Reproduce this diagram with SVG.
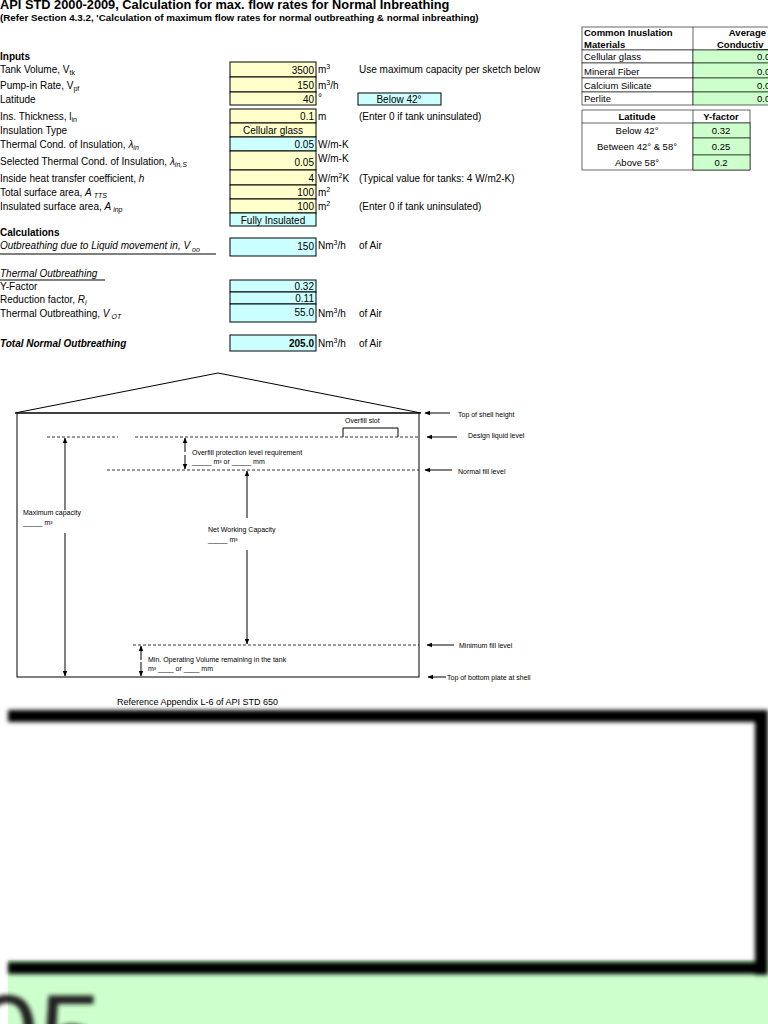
<svg xmlns="http://www.w3.org/2000/svg" width="768" height="1024" viewBox="0 0 768 1024">
<style>
text{font-family:"Liberation Sans",Arial,sans-serif;font-size:10px;fill:#000}
.b{font-weight:bold}.i{font-style:italic}
.y{fill:#ffffcc;stroke:#000;stroke-width:1}
.c{fill:#ccffff;stroke:#000;stroke-width:1}
.g{fill:#ccffcc;stroke:#000;stroke-width:0.6}
.w{fill:#fff;stroke:#000;stroke-width:0.6}
.v{text-anchor:end}
.s{font-size:7px}
.d{stroke:#000;stroke-width:0.8;stroke-dasharray:3,2;fill:none}
.l{stroke:#000;stroke-width:1;fill:none}
.m{text-anchor:middle}
</style>
<defs>
<marker id="a" viewBox="0 0 10 10" refX="9" refY="5" markerWidth="6" markerHeight="6" orient="auto-start-reverse"><path d="M0,1L10,5L0,9z" fill="#000"/></marker>
<filter id="bl"><feGaussianBlur stdDeviation="2"/></filter>
</defs>
<rect width="768" height="1024" fill="#fff"/>
<g id="header">
<text x="0" y="9" class="b" style="font-size:12.8px">API STD 2000-2009, Calculation for max. flow rates for Normal Inbreathing</text>
<text x="0" y="21" class="b" style="font-size:9.8px">(Refer Section 4.3.2, 'Calculation of maximum flow rates for normal outbreathing &amp; normal inbreathing)</text>
</g>
<g id="inputs">
<text x="0" y="60" class="b">Inputs</text>
<text x="0" y="73">Tank Volume, V<tspan class="s" dy="2">tk</tspan></text>
<text x="0" y="89">Pump-in Rate, V<tspan class="s" dy="2">pf</tspan></text>
<text x="0" y="103">Latitude</text>
<text x="0" y="120">Ins. Thickness, l<tspan class="s" dy="2">in</tspan></text>
<text x="0" y="134">Insulation Type</text>
<text x="0" y="148">Thermal Cond. of Insulation, <tspan class="i">λ</tspan><tspan class="s i" dy="2">in</tspan></text>
<text x="0" y="165">Selected Thermal Cond. of Insulation, <tspan class="i">λ</tspan><tspan class="s i" dy="2">in,S</tspan></text>
<text x="0" y="182">Inside heat transfer coefficient, <tspan class="i">h</tspan></text>
<text x="0" y="196">Total surface area, <tspan class="i">A</tspan><tspan class="s i" dy="2"> TTS</tspan></text>
<text x="0" y="210">Insulated surface area, <tspan class="i">A</tspan><tspan class="s i" dy="2"> inp</tspan></text>
<rect class="y" x="230" y="62" width="86" height="15"/><text x="314" y="74" class="v">3500</text>
<rect class="y" x="230" y="77" width="86" height="15"/><text x="314" y="89" class="v">150</text>
<rect class="y" x="230" y="92" width="86" height="13"/><text x="314" y="103" class="v">40</text>
<rect class="y" x="230" y="109" width="86" height="14"/><text x="314" y="120" class="v">0.1</text>
<rect class="y" x="230" y="123" width="86" height="14"/><text x="273" y="134" class="m">Cellular glass</text>
<rect class="c" x="230" y="137" width="86" height="14"/><text x="314" y="148" class="v">0.05</text>
<rect class="y" x="230" y="151" width="86" height="19"/><text x="314" y="166" class="v">0.05</text>
<rect class="y" x="230" y="170" width="86" height="15"/><text x="314" y="182" class="v">4</text>
<rect class="y" x="230" y="185" width="86" height="14"/><text x="314" y="196" class="v">100</text>
<rect class="y" x="230" y="199" width="86" height="14"/><text x="314" y="210" class="v">100</text>
<rect class="c" x="230" y="213" width="86" height="13"/><text x="273" y="224" class="m">Fully Insulated</text>
<text x="318" y="73">m<tspan class="s" dy="-4">3</tspan></text>
<text x="318" y="89">m<tspan class="s" dy="-4">3</tspan><tspan dy="4">/h</tspan></text>
<text x="318" y="101">°</text>
<text x="318" y="120">m</text>
<text x="318" y="148">W/m-K</text>
<text x="318" y="162">W/m-K</text>
<text x="318" y="182">W/m<tspan class="s" dy="-4">2</tspan><tspan dy="4">K</tspan></text>
<text x="318" y="196">m<tspan class="s" dy="-4">2</tspan></text>
<text x="318" y="210">m<tspan class="s" dy="-4">2</tspan></text>
<text x="359" y="73">Use maximum capacity per sketch below</text>
<rect class="c" x="358" y="93" width="83" height="12"/><text x="399" y="103" class="m">Below 42°</text>
<text x="359" y="120">(Enter 0 if tank uninsulated)</text>
<text x="359" y="182">(Typical value for tanks: 4 W/m2-K)</text>
<text x="359" y="210">(Enter 0 if tank uninsulated)</text>
</g>
<g id="calcs">
<text x="0" y="236" class="b">Calculations</text>
<text x="0" y="249" class="i">Outbreathing due to Liquid movement in, V<tspan class="s" dy="3"> oo</tspan></text>
<line x1="0" y1="254" x2="216" y2="254" class="l"/>
<rect class="c" x="230" y="238" width="86" height="18"/><text x="314" y="250" class="v">150</text>
<text x="318" y="249">Nm<tspan class="s" dy="-4">3</tspan><tspan dy="4">/h</tspan></text>
<text x="359" y="249">of Air</text>
<text x="0" y="277" class="i">Thermal Outbreathing</text>
<line x1="0" y1="280" x2="105" y2="280" class="l"/>
<text x="0" y="290">Y-Factor</text>
<text x="0" y="303">Reduction factor, <tspan class="i">R</tspan><tspan class="s i" dy="2">i</tspan></text>
<text x="0" y="317">Thermal Outbreathing, <tspan class="i">V</tspan><tspan class="s i" dy="2"> OT</tspan></text>
<rect class="c" x="230" y="280" width="86" height="12"/><text x="314" y="290" class="v">0.32</text>
<rect class="c" x="230" y="292" width="86" height="12"/><text x="314" y="302" class="v">0.11</text>
<rect class="c" x="230" y="304" width="86" height="18"/><text x="314" y="316" class="v">55.0</text>
<text x="318" y="317">Nm<tspan class="s" dy="-4">3</tspan><tspan dy="4">/h</tspan></text>
<text x="359" y="317">of Air</text>
<text x="0" y="347" class="b i">Total Normal Outbreathing</text>
<rect class="c" x="230" y="335" width="86" height="16"/><text x="314" y="347" class="v b">205.0</text>
<text x="318" y="347">Nm<tspan class="s" dy="-4">3</tspan><tspan dy="4">/h</tspan></text>
<text x="359" y="347">of Air</text>
</g>
<g id="tables" style="font-size:9px">
<rect class="w" x="582" y="27" width="200" height="23"/>
<line x1="693" y1="27" x2="693" y2="105" stroke="#000" stroke-width="0.6"/>
<text x="584" y="36" class="b" style="font-size:9.5px">Common Inuslation</text>
<text x="584" y="48" class="b" style="font-size:9.5px">Materials</text>
<text x="766" y="36" class="b v" style="font-size:9.5px">Average</text>
<text x="717" y="48" class="b" style="font-size:9.5px">Conductiv</text>
<line x1="717" y1="49.5" x2="768" y2="49.5" stroke="#000" stroke-width="0.6"/>
<rect class="w" x="582" y="50" width="111" height="13"/><rect class="g" x="693" y="50" width="90" height="13"/>
<rect class="w" x="582" y="63" width="111" height="15"/><rect class="g" x="693" y="63" width="90" height="15"/>
<rect class="w" x="582" y="78" width="111" height="14"/><rect class="g" x="693" y="78" width="90" height="14"/>
<rect class="w" x="582" y="92" width="111" height="13"/><rect class="g" x="693" y="92" width="90" height="13"/>
<text x="584" y="60" style="font-size:9.5px">Cellular glass</text><text x="757" y="60" style="font-size:9.5px">0.0</text>
<text x="584" y="75" style="font-size:9.5px">Mineral Fiber</text><text x="757" y="75" style="font-size:9.5px">0.0</text>
<text x="584" y="89" style="font-size:9.5px">Calcium Silicate</text><text x="757" y="89" style="font-size:9.5px">0.0</text>
<text x="584" y="102" style="font-size:9.5px">Perlite</text><text x="757" y="102" style="font-size:9.5px">0.0</text>
<rect class="w" x="582" y="110" width="168" height="60"/>
<line x1="693" y1="110" x2="693" y2="170" stroke="#000" stroke-width="0.6"/>
<line x1="582" y1="123" x2="750" y2="123" stroke="#000" stroke-width="0.6"/>
<rect class="g" x="693" y="123" width="57" height="15"/><rect class="g" x="693" y="138" width="57" height="17"/><rect class="g" x="693" y="155" width="57" height="15"/>
<text x="637" y="120" class="b m" style="font-size:9.5px">Latitude</text><text x="721" y="120" class="b m" style="font-size:9.5px">Y-factor</text>
<text x="637" y="134" class="m" style="font-size:9.5px">Below 42°</text><text x="721" y="134" class="m" style="font-size:9.5px">0.32</text>
<text x="637" y="150" class="m" style="font-size:9.5px">Between 42° &amp; 58°</text><text x="721" y="150" class="m" style="font-size:9.5px">0.25</text>
<text x="637" y="166" class="m" style="font-size:9.5px">Above 58°</text><text x="721" y="166" class="m" style="font-size:9.5px">0.2</text>
</g>
<g id="tank">
<path d="M15,413 L218,373 L421,413 Z" class="l"/>
<rect x="17" y="413" width="402" height="264" class="l"/>
<line x1="47" y1="437" x2="118" y2="437" class="d"/>
<line x1="135" y1="437" x2="419" y2="437" class="d"/>
<line x1="107" y1="470" x2="419" y2="470" class="d"/>
<line x1="133" y1="645" x2="419" y2="645" class="d"/>
<path d="M343,437 V428 H398 V437" class="l" stroke-width="0.8"/>
<text x="345" y="423" style="font-size:7px">Overfill slot</text>
<text x="23" y="515" style="font-size:7px">Maximum capacity</text>
<text x="23" y="525" style="font-size:7px">_____ m³</text>
<text x="192" y="455" style="font-size:7px">Overfill protection level requirement</text>
<text x="192" y="464" style="font-size:7px">_____ m³ or _____ mm</text>
<text x="208" y="532" style="font-size:7px">Net Working Capacity</text>
<text x="208" y="542" style="font-size:7px">_____ m³</text>
<text x="148" y="662" style="font-size:7px">Min. Operating Volume remaining in the tank</text>
<text x="148" y="671" style="font-size:7px">m³ ____ or ____ mm</text>
<text x="458" y="417" style="font-size:7px">Top of shell height</text>
<text x="468" y="438" style="font-size:7px">Design liquid level</text>
<text x="458" y="474" style="font-size:7px">Normal fill level</text>
<text x="459" y="648" style="font-size:7px">Minimum fill level</text>
<text x="447" y="680" style="font-size:7px">Top of bottom plate at shell</text>
<text x="117" y="705" style="font-size:9px">Reference Appendix L-6 of API STD 650</text>
</g>
<g id="connectors" stroke="#000" stroke-width="1" fill="none">
<line x1="65" y1="510" x2="65" y2="438" marker-end="url(#a)"/>
<line x1="65" y1="533" x2="65" y2="676" marker-end="url(#a)"/>
<line x1="185" y1="452" x2="185" y2="438" marker-end="url(#a)"/>
<line x1="185" y1="455" x2="185" y2="469" marker-end="url(#a)"/>
<line x1="247" y1="518" x2="247" y2="471" marker-end="url(#a)"/>
<line x1="247" y1="550" x2="247" y2="644" marker-end="url(#a)"/>
<line x1="141" y1="660" x2="141" y2="646" marker-end="url(#a)"/>
<line x1="141" y1="662" x2="141" y2="676" marker-end="url(#a)"/>
<line x1="450" y1="413" x2="425" y2="413" marker-end="url(#a)"/>
<line x1="457" y1="437" x2="427" y2="437" marker-end="url(#a)"/>
<line x1="452" y1="470" x2="425" y2="470" marker-end="url(#a)"/>
<line x1="454" y1="645" x2="427" y2="645" marker-end="url(#a)"/>
<line x1="446" y1="677" x2="428" y2="677" marker-end="url(#a)"/>
</g>
<g id="zoomed">
<rect x="8" y="960" width="760" height="64" fill="#ccffcc"/>
<g filter="url(#bl)">
<rect x="8" y="710" width="760" height="12" fill="#000"/>
<rect x="755" y="710" width="13" height="265" fill="#000"/>
<rect x="8" y="962" width="760" height="12" fill="#000"/>
</g>
<text x="-25" y="1075" filter="url(#bl)" style="font-size:115px;fill:#222">05</text>
</g>
</svg>
